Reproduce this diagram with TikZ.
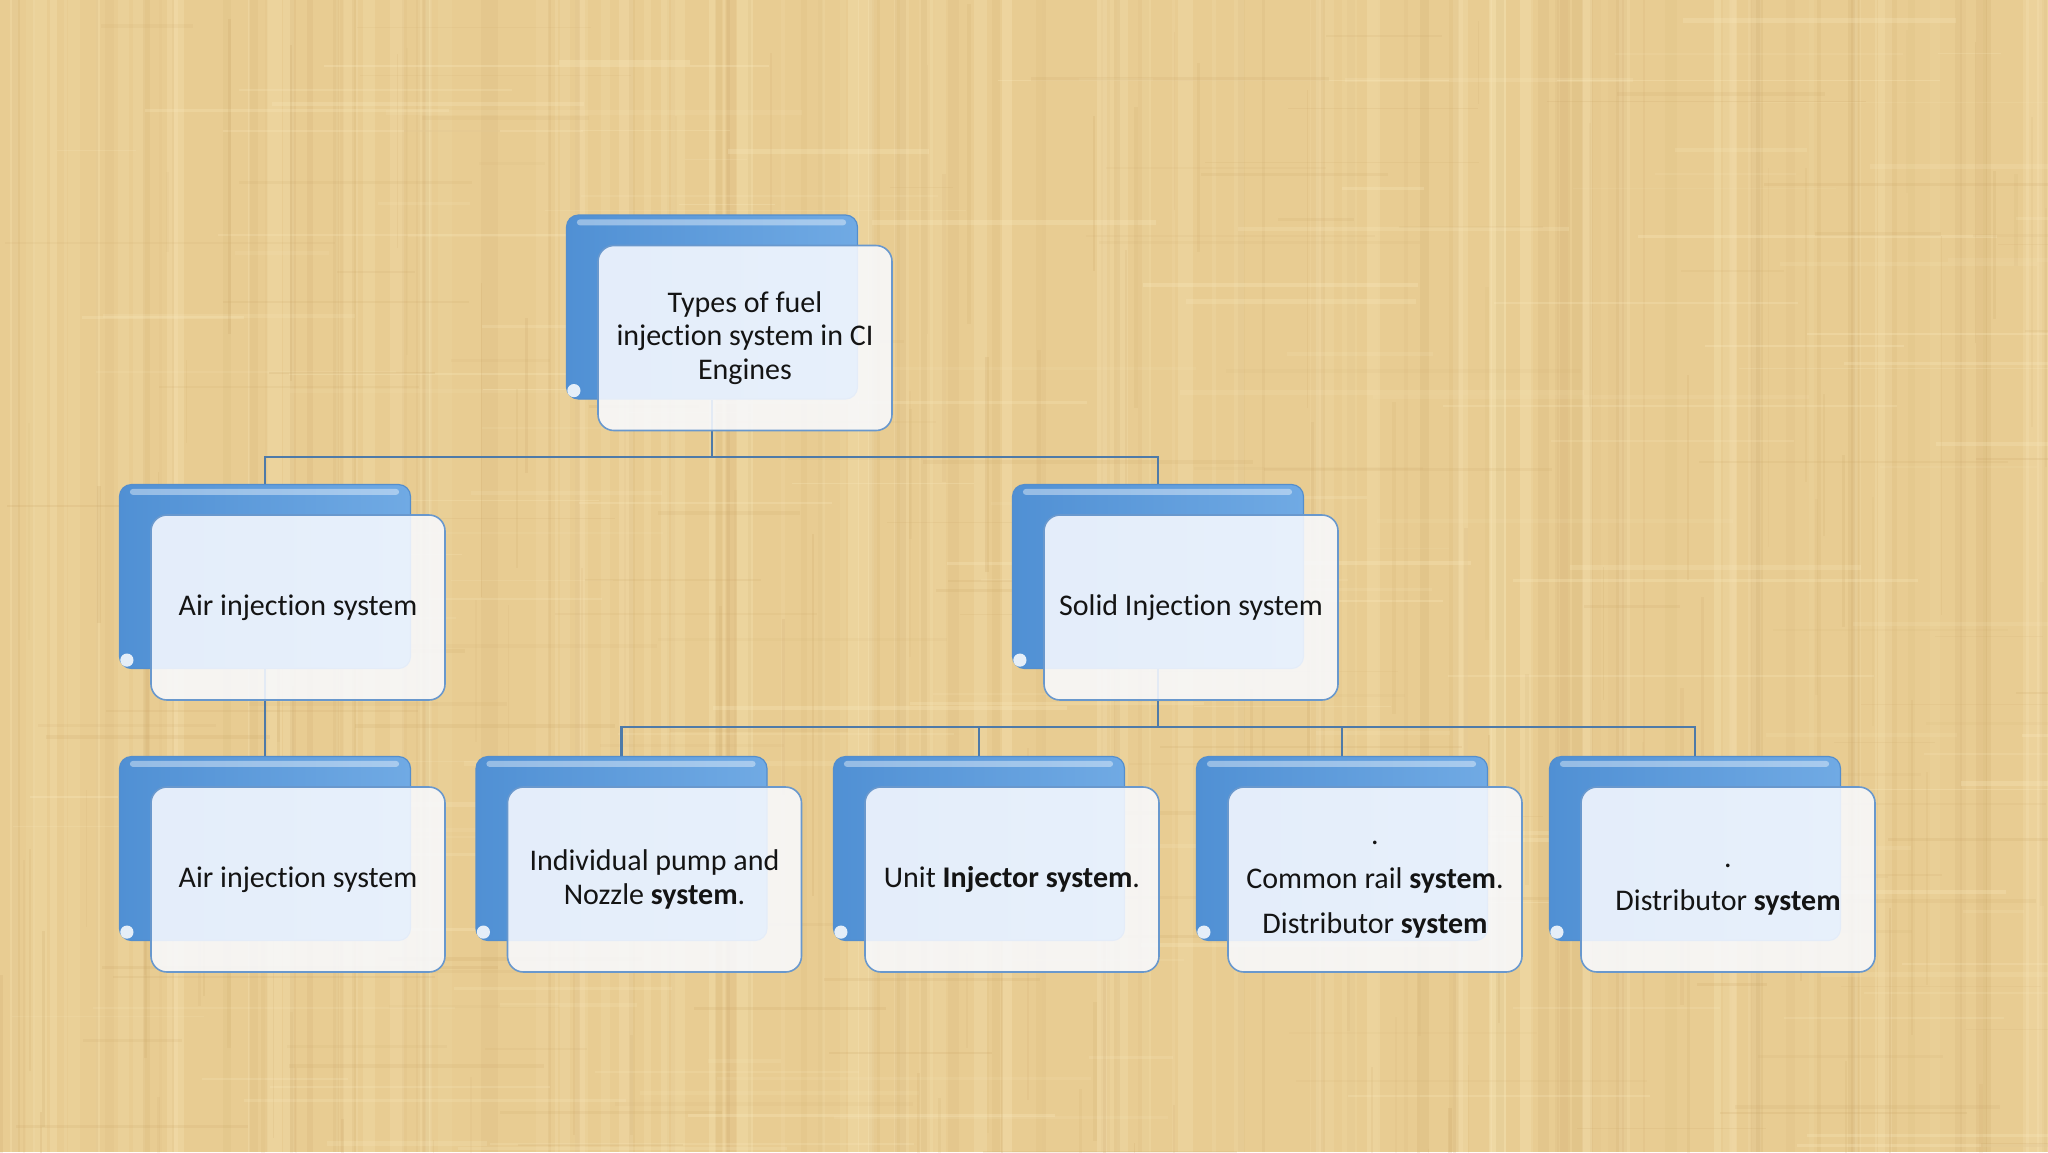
\documentclass[tikz,border=0pt]{standalone}
\usepackage{fontspec}
\setmainfont{Carlito}[Ligatures=NoCommon]
\usetikzlibrary{calc}
\definecolor{bgtan}{RGB}{232,204,146}
\definecolor{lighttan}{RGB}{250,234,190}
\definecolor{darktan}{RGB}{200,162,100}
\definecolor{conncol}{RGB}{78,122,168}
\definecolor{blueL}{RGB}{80,144,212}
\definecolor{blueR}{RGB}{112,170,228}
\definecolor{blueEdge}{RGB}{84,142,205}
\definecolor{frontEdge}{RGB}{105,152,205}
\definecolor{frontFill}{RGB}{248,250,255}
\pgfdeclarelayer{texture}
\pgfdeclarelayer{conn}
\pgfsetlayers{texture,conn,main}
\tikzset{
  backbox/.style={rounded corners=6pt, minimum width=145.5pt, minimum height=92pt,
    left color=blueL, right color=blueR, draw=blueEdge, line width=0.6pt, inner sep=0pt},
  frontbox/.style={rounded corners=8pt, minimum width=147pt, minimum height=92.5pt,
    fill=frontFill, fill opacity=0.88, text opacity=1, draw=frontEdge, line width=0.8pt,
    align=center, inner sep=2pt, font=\fontsize{15}{16.8}\selectfont, text=black!92},
  connector/.style={draw=conncol, line width=1.2pt},
  gloss/.style={white, opacity=0.4, rounded corners=1.5pt},
  glossdot/.style={white, opacity=0.85},
}
\newcommand\tierbox[4]{%
  \node[backbox] (#1b) at ({#2-33},{#3-31}) {};
  \fill[gloss] ([xshift=5.5pt,yshift=-2.5pt]#1b.north west) rectangle ([xshift=-6pt,yshift=-5.5pt]#1b.north east);
  \fill[glossdot] ([xshift=4pt,yshift=4.5pt]#1b.south west) circle (3.3pt);
  \node[frontbox] (#1) at (#2,#3) {#4};
}
\begin{document}
\begin{tikzpicture}[x=0.5pt,y=-0.5pt]
\useasboundingbox (0,0) rectangle (2048,1152);
\begin{pgfonlayer}{texture}
\begin{scope}
\clip (0,0) rectangle (2048,1152);
\fill[bgtan] (0,0) rectangle (2048,1152);
\pgfmathsetseed{4242}
\foreach \i in {1,...,90}{
  \pgfmathsetmacro\xx{rnd*2048}
  \pgfmathsetmacro\ww{2+rnd*14}
  \pgfmathsetmacro\oo{0.10+rnd*0.18}
  \fill[lighttan,opacity=\oo] (\xx,0) rectangle ({\xx+\ww},1152);
}
\foreach \i in {1,...,80}{
  \pgfmathsetmacro\xx{rnd*2048}
  \pgfmathsetmacro\ww{2+rnd*10}
  \pgfmathsetmacro\oo{0.05+rnd*0.12}
  \fill[darktan,opacity=\oo] (\xx,0) rectangle ({\xx+\ww},1152);
}
\foreach \i in {1,...,140}{
  \pgfmathsetmacro\xx{rnd*2048}
  \pgfmathsetmacro\yy{rnd*1152}
  \pgfmathsetmacro\ll{60+rnd*400}
  \pgfmathsetmacro\hh{1+rnd*4}
  \pgfmathsetmacro\oo{0.10+rnd*0.2}
  \fill[lighttan,opacity=\oo] (\xx,\yy) rectangle ({\xx+\ll},{\yy+\hh});
}
\foreach \i in {1,...,120}{
  \pgfmathsetmacro\xx{rnd*2048}
  \pgfmathsetmacro\yy{rnd*1152}
  \pgfmathsetmacro\ll{60+rnd*300}
  \pgfmathsetmacro\hh{1+rnd*3}
  \pgfmathsetmacro\oo{0.06+rnd*0.12}
  \fill[darktan,opacity=\oo] (\xx,\yy) rectangle ({\xx+\ll},{\yy+\hh});
}
\foreach \i in {1,...,120}{
  \pgfmathsetmacro\xx{rnd*2048}
  \pgfmathsetmacro\yy{rnd*1152}
  \pgfmathsetmacro\ll{80+rnd*300}
  \pgfmathsetmacro\ww{1+rnd*3}
  \pgfmathsetmacro\oo{0.06+rnd*0.14}
  \fill[darktan,opacity=\oo] (\xx,\yy) rectangle ({\xx+\ww},{\yy+\ll});
}
\end{scope}
\end{pgfonlayer}

\tierbox{top}{745}{338}{Types of fuel\\injection system in CI\\Engines}
\tierbox{air}{298}{607.5}{Air injection system}
\tierbox{solid}{1191}{607.5}{Solid Injection system}
\tierbox{airx}{298}{879.5}{Air injection system}
\tierbox{ind}{654.5}{879.5}{Individual pump and\\Nozzle \textbf{system}.}
\tierbox{unit}{1012}{879.5}{Unit \textbf{Injector system}.}
\tierbox{cr}{1375}{879.5}{\strut.\\[5.5pt]Common rail \textbf{system}.\\[5.5pt]Distributor \textbf{system}}
\tierbox{dist}{1728}{879.5}{\strut.\\[5pt]Distributor \textbf{system}}

\coordinate (j1) at (712,457);
\coordinate (j2) at (1158,727);
\begin{pgfonlayer}{conn}
\draw[connector] (topb.south) -- (j1);
\draw[connector] (airb.north) |- (j1) -| (solidb.north);
\draw[connector] (airb.south) -- (airxb.north);
\draw[connector] (solidb.south) -- (j2);
\draw[connector] (indb.north) |- (j2) -| (distb.north);
\draw[connector] (unitb.north) -- (unitb.north |- j2);
\draw[connector] (crb.north) -- (crb.north |- j2);
\end{pgfonlayer}
\end{tikzpicture}
\end{document}
